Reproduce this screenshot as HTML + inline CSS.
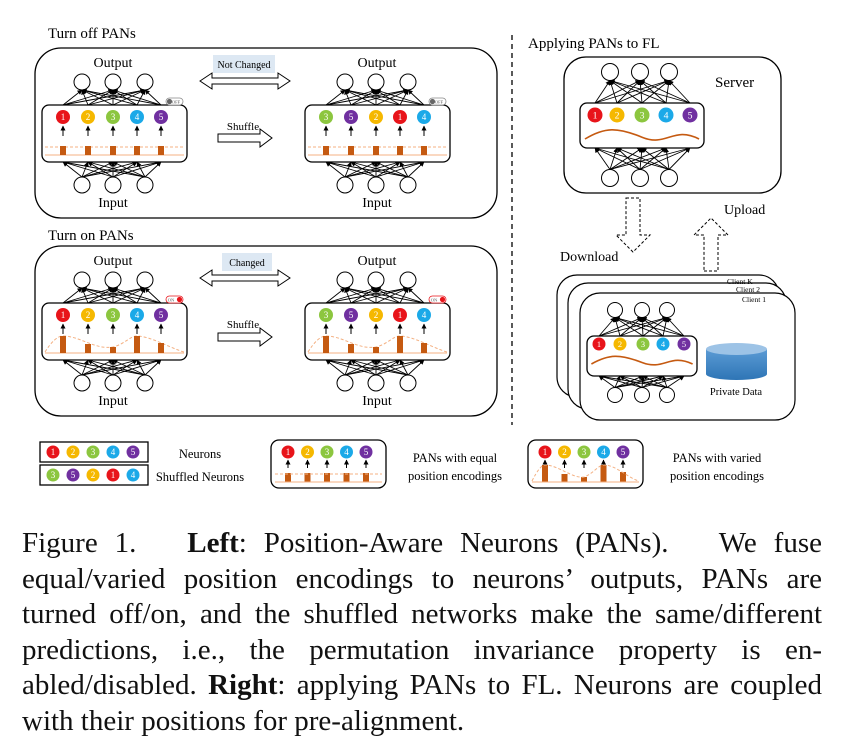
<!DOCTYPE html>
<html><head><meta charset="utf-8"><style>
body{margin:0;background:#fff;width:846px;height:756px;overflow:hidden;position:relative;font-family:"Liberation Serif",serif}
svg{position:absolute;left:0;top:0}
.cap{position:absolute;left:22px;width:800px;font-size:29px;line-height:35.5px;top:526px;color:#111}
.cap div{text-align:justify;text-align-last:justify;white-space:nowrap;transform-origin:0 0}
.cap div.l{text-align-last:left}
</style></head><body>
<svg id="s" width="846" height="520" viewBox="0 0 846 520" font-family="Liberation Serif, serif">
<defs>
<marker id="ah" markerWidth="5" markerHeight="5" refX="4.5" refY="2.5" orient="auto" markerUnits="userSpaceOnUse"><path d="M0,0 L5,2.5 L0,5 z" fill="#000"/></marker>
<linearGradient id="cyl" x1="0" y1="0" x2="0" y2="1"><stop offset="0" stop-color="#5b9bd5"/><stop offset="1" stop-color="#2e75b6"/></linearGradient>
</defs>
<g font-size="15" fill="#000">
<text x="48" y="38">Turn off PANs</text>
<text x="48" y="240">Turn on PANs</text>
<text x="528" y="48">Applying PANs to FL</text>
<text x="715" y="87">Server</text>
<text x="560" y="261" font-size="14">Download</text>
<text x="724" y="214" font-size="14">Upload</text>
</g>
<rect x="35" y="48" width="462" height="170" rx="26" fill="none" stroke="#000" stroke-width="1.3"/>
<rect x="35" y="246" width="462" height="170" rx="26" fill="none" stroke="#000" stroke-width="1.3"/>
<line x1="512" y1="35" x2="512" y2="425" stroke="#000" stroke-dasharray="5,4" stroke-width="1.3"/>
<rect x="213" y="55" width="62" height="18" fill="#dde8f3"/>
<text x="244" y="68" font-size="10" text-anchor="middle">Not Changed</text>
<rect x="222" y="253" width="50" height="18" fill="#dde8f3"/>
<text x="247" y="266" font-size="10" text-anchor="middle">Changed</text>
<text x="243" y="130" font-size="11" text-anchor="middle">Shuffle</text>
<text x="243" y="328" font-size="11" text-anchor="middle">Shuffle</text>
<rect x="564" y="57" width="217" height="136" rx="22" fill="none" stroke="#000" stroke-width="1.3"/>
<rect x="557" y="275" width="222" height="122" rx="20" fill="#fff" stroke="#000" stroke-width="1.2"/>
<rect x="568" y="283" width="218" height="126" rx="20" fill="#fff" stroke="#000" stroke-width="1.2"/>
<rect x="580" y="293" width="215" height="127" rx="20" fill="#fff" stroke="#000" stroke-width="1.2"/>
<g font-size="7.5"><text x="727" y="284">Client K</text><text x="736" y="292">Client 2</text><text x="742" y="302">Client 1</text></g>
<path d="M706,349 v25 a30.5,6 0 0 0 61,0 v-25 z" fill="url(#cyl)"/>
<ellipse cx="736.5" cy="349" rx="30.5" ry="6" fill="#9dc3e6"/>
<text x="736" y="395" font-size="10.5" text-anchor="middle">Private Data</text>
<path d="M626,198 h14 v37 h10 l-17,17 l-17,-17 h10 z" fill="none" stroke="#000" stroke-dasharray="3,2"/>
<path d="M704,271 h14 v-36 h10 l-17,-17 l-17,17 h10 z" fill="none" stroke="#000" stroke-dasharray="3,2"/>
<g font-size="12.5" text-anchor="middle">
<text x="200" y="458">Neurons</text>
<text x="200" y="481">Shuffled Neurons</text>
<text x="455" y="462">PANs with equal</text>
<text x="455" y="480">position encodings</text>
<text x="717" y="462">PANs with varied</text>
<text x="717" y="480">position encodings</text>
</g>
<g id="g"></g>
</svg>
<div class="cap">
<div>Figure 1.&nbsp;&nbsp; <b>Left</b>: Position-Aware Neurons (PANs).&nbsp;&nbsp; We fuse</div>
<div>equal/varied position encodings to neurons’ outputs, PANs are</div>
<div>turned off/on, and the shuffled networks make the same/different</div>
<div>predictions, i.e., the permutation invariance property is en-</div>
<div>abled/disabled. <b>Right</b>: applying PANs to FL. Neurons are coupled</div>
<div class="l">with their positions for pre-alignment.</div>
</div>
<script>
const C={1:'#e8141a',2:'#f5b800',3:'#8cc63f',4:'#1ba9e8',5:'#7030a0'};
let h='';
function neuron(x,y,r,n,fs){h+=`<circle cx="${x}" cy="${y}" r="${r}" fill="${C[n]}"/><text x="${x}" y="${y+fs*0.35}" font-size="${fs}" fill="#fff" text-anchor="middle">${n}</text>`;}
function net(g){
 const {out,oy,r,bx1,by1,bx2,by2,nx,ny,nr,iy}=g;
 for(const ox of out){h+=`<circle cx="${ox}" cy="${oy}" r="${r}" fill="#fff" stroke="#000"/>`;
  h+=`<circle cx="${ox}" cy="${iy}" r="${r}" fill="#fff" stroke="#000"/>`;
  for(const n of nx){h+=`<line x1="${n}" y1="${by1}" x2="${ox}" y2="${oy+r}" stroke="#000" stroke-width="0.9" marker-end="url(#ah)"/>`;
   h+=`<line x1="${ox}" y1="${iy-r}" x2="${n}" y2="${by2}" stroke="#000" stroke-width="0.9" marker-end="url(#ah)"/>`;}}
 h+=`<rect x="${bx1}" y="${by1}" width="${bx2-bx1}" height="${by2-by1}" rx="7" fill="#fff" stroke="#000" stroke-width="1.3"/>`;
 const ord=g.ord||[1,2,3,4,5];
 nx.forEach((n,i)=>neuron(n,ny,nr,ord[i],nr*1.3));
 if(g.mode=='wave'){const w=bx2-bx1,X=f=>bx1+w*f,y0=g.wy,a=g.wa;
  h+=`<path d="M${X(.04)},${y0+a} C${X(.2)},${y0-a} ${X(.3)},${y0-a} ${X(.5)},${y0+a*.7} S${X(.75)},${y0-a*1.2} ${X(.96)},${y0+a}" fill="none" stroke="#c55a11" stroke-width="1.6"/>`;return;}
 nx.forEach(n=>h+=`<line x1="${n}" y1="${ny+19}" x2="${n}" y2="${ny+9}" stroke="#000" stroke-width="1" marker-end="url(#ah)"/>`);
 const base=by2-7;
 h+=`<line x1="${bx1+3}" y1="${base}" x2="${bx2-3}" y2="${base}" stroke="#f4b183" stroke-width="1"/>`;
 const hs=g.mode=='eq'?[9,9,9,9,9]:[17,9,6,17,10];
 if(g.mode=='eq')h+=`<line x1="${bx1+3}" y1="${base-8}" x2="${bx2-3}" y2="${base-8}" stroke="#f4b183" stroke-dasharray="3,2"/>`;
 else h+=`<path d="M${bx1+3},${base-1} Q${nx[0]-8},${base-17} ${nx[0]},${base-17} C${nx[0]+17},${base-17} ${nx[1]+7},${base-3} ${nx[2]},${base-6} C${nx[2]+12},${base-9} ${nx[3]-7},${base-17} ${nx[3]},${base-17} C${nx[3]+13},${base-17} ${nx[4]+9},${base-5} ${bx2-3},${base-1}" fill="none" stroke="#f4b183" stroke-dasharray="3,2"/>`;
 nx.forEach((n,i)=>h+=`<rect x="${n-3}" y="${base-hs[i]}" width="6" height="${hs[i]}" fill="#c55a11"/>`);
 if(g.tog){const on=g.tog=='on',tx=bx2-21,ty=by1-7;h+=`<rect x="${tx}" y="${ty}" width="17" height="7" rx="3.5" fill="#fff" stroke="${on?'#e8141a':'#888'}" stroke-width="0.8"/><circle cx="${on?tx+13.5:tx+3.5}" cy="${ty+3.5}" r="2.6" fill="${on?'#e8141a':'#666'}"/><text x="${on?tx+5:tx+10}" y="${ty+5.5}" font-size="4.5" text-anchor="middle" fill="#555">${on?'ON':'OFF'}</text>`;}
}
function base(dx,dy,o){return Object.assign({out:[82+dx,113+dx,145+dx],oy:82+dy,r:8,bx1:42+dx,by1:105+dy,bx2:187+dx,by2:162+dy,nx:[63,88,113,137,161].map(v=>v+dx),ny:117+dy,nr:7,iy:185+dy},o);}
net(base(0,0,{mode:'eq',tog:'off'}));
net(base(263,0,{mode:'eq',tog:'off',ord:[3,5,2,1,4]}));
net(base(0,198,{mode:'var',tog:'on'}));
net(base(263,198,{mode:'var',tog:'on',ord:[3,5,2,1,4]}));
net({out:[610,640,669],oy:72,r:8.5,bx1:580,by1:103,bx2:704,by2:148,nx:[595,617,642,666,690],ny:115,nr:7.5,iy:178,mode:'wave',wy:133,wa:6});
net({out:[615,642,667],oy:310,r:7.5,bx1:587,by1:336,bx2:697,by2:376,nx:[599,620,643,663,684],ny:344,nr:6.5,iy:395,mode:'wave',wy:359,wa:5});
[[113,67,'Output'],[113,207,'Input'],[377,67,'Output'],[377,207,'Input'],[113,265,'Output'],[113,405,'Input'],[377,265,'Output'],[377,405,'Input']].forEach(a=>h+=`<text x="${a[0]}" y="${a[1]}" font-size="14" text-anchor="middle">${a[2]}</text>`);
function dbl(y){h+=`<path d="M200,${y} l12,-8 v5 h66 v-5 l12,8 l-12,8 v-5 h-66 v5 z" fill="#fff" stroke="#000"/>`;}
dbl(81);dbl(278);
function sh(y){h+=`<path d="M218,${y-4} h42 v-5 l12,9 l-12,9 v-5 h-42 z" fill="#fff" stroke="#000"/>`;}
sh(138);sh(337);
h+=`<rect x="40" y="442" width="108" height="20" fill="#fff" stroke="#000" stroke-width="1.3"/><rect x="40" y="465" width="108" height="20" fill="#fff" stroke="#000" stroke-width="1.3"/>`;
[1,2,3,4,5].forEach((n,i)=>neuron(53+i*20,452,6.5,n,9));
[3,5,2,1,4].forEach((n,i)=>neuron(53+i*20,475,6.5,n,9));
function leg(x,eq){h+=`<rect x="${x}" y="440" width="115" height="48" rx="8" fill="#fff" stroke="#000" stroke-width="1.3"/>`;
 const hs=eq?[9,9,9,9,9]:[17,8,5,17,10];
 [1,2,3,4,5].forEach((n,i)=>{const cx=x+17+i*19.5;neuron(cx,452,6.5,n,9);h+=`<line x1="${cx}" y1="468" x2="${cx}" y2="460" stroke="#000" marker-end="url(#ah)"/><rect x="${cx-3}" y="${482-hs[i]}" width="6" height="${hs[i]}" fill="#c55a11"/>`;});
 h+=`<line x1="${x+4}" y1="482" x2="${x+111}" y2="482" stroke="#f4b183"/>`;
 if(eq)h+=`<line x1="${x+4}" y1="474" x2="${x+111}" y2="474" stroke="#f4b183" stroke-dasharray="3,2"/>`;
 else h+=`<path d="M${x+4},481 Q${x+12},465 ${x+17},465 C${x+30},465 ${x+45},479 ${x+56},477 C${x+65},474 ${x+70},465 ${x+76},465 C${x+88},465 ${x+100},478 ${x+111},481" fill="none" stroke="#f4b183" stroke-dasharray="3,2"/>`;}
leg(271,true);leg(528,false);
document.getElementById('g').innerHTML=h;
document.querySelectorAll('.cap div').forEach(d=>{
 const sp=document.createElement('span');sp.innerHTML=d.innerHTML;sp.style.whiteSpace='nowrap';sp.style.position='absolute';sp.style.visibility='hidden';d.parentNode.appendChild(sp);
 const w=sp.getBoundingClientRect().width;sp.remove();
 if(w>800&&!d.classList.contains('l')){d.style.width=w+'px';d.style.transform='scaleX('+(800/w)+')';}
});
</script>
</body></html>
